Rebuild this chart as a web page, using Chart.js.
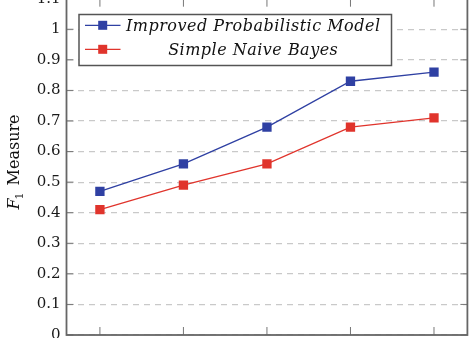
<!DOCTYPE html>
<html>
<head>
<meta charset="utf-8">
<script src="https://cdn.jsdelivr.net/npm/chart.js@4.4.0/dist/chart.umd.min.js"></script>
<style>
  body { margin: 0; background: #fff; }
  #wrap { position: relative; width: 474px; height: 338px; overflow: hidden; }
  #chart { position: absolute; left: 0; top: -30px; }
</style>
</head>
<body>
<div id="wrap"><canvas id="chart" width="474" height="380"></canvas></div>
<script>
const xValues = [1, 2, 3, 4, 5]
const improved = [0.47, 0.56, 0.68, 0.83, 0.86]
const naive = [0.41, 0.49, 0.56, 0.68, 0.71]
const seriesNames = ['Improved Probabilistic Model', 'Simple Naive Bayes']
const yTicks = [0, 0.1, 0.2, 0.3, 0.4, 0.5, 0.6, 0.7, 0.8, 0.9, 1, 1.1]

const BLUE = '#2f40a3'
const RED = '#e0342c'
const OFF = 30 // canvas is shifted up by this much
const SERIF = '"DejaVu Serif", serif'

const toPoints = arr => arr.map((v, i) => ({ x: xValues[i], y: v }))

// frame, inward ticks
const framePlugin = {
  id: 'frame',
  beforeDatasetsDraw(chart) {
    const { ctx, chartArea: { left, right, top, bottom }, scales: { x, y } } = chart
    ctx.save()
    ctx.strokeStyle = '#777'
    ctx.lineWidth = 1
    ctx.beginPath()
    yTicks.forEach(v => {
      const py = y.getPixelForValue(v)
      ctx.moveTo(left, py); ctx.lineTo(left + 7, py)
      ctx.moveTo(right - 7, py); ctx.lineTo(right, py)
    })
    xValues.forEach(v => {
      const px = x.getPixelForValue(v)
      ctx.moveTo(px, bottom); ctx.lineTo(px, bottom - 8)
      ctx.moveTo(px, top); ctx.lineTo(px, top + 8)
    })
    ctx.stroke()
    ctx.strokeStyle = '#666'
    ctx.lineWidth = 1.8
    ctx.strokeRect(left, top, right - left, bottom - top)
    ctx.restore()
  }
}

// draw text char by char with extra spacing
function spaced(ctx, text, x, y, spacing) {
  let cx = x
  for (const ch of text) {
    ctx.fillText(ch, cx, y)
    cx += ctx.measureText(ch).width + spacing
  }
}
function spacedWidth(ctx, text, spacing) {
  let w = 0
  for (const ch of text) w += ctx.measureText(ch).width + spacing
  return w - spacing
}

const legendPlugin = {
  id: 'boxLegend',
  afterDraw(chart) {
    const ctx = chart.ctx
    ctx.save()
    ctx.fillStyle = '#fff'
    ctx.fillRect(79, 14.5 + OFF, 312.5, 51)
    ctx.strokeStyle = '#555'
    ctx.lineWidth = 1.5
    ctx.strokeRect(79, 14.5 + OFF, 312.5, 51)

    ctx.font = 'italic 16px ' + SERIF
    ctx.textBaseline = 'alphabetic'
    const nat = spacedWidth(ctx, seriesNames[0], 0)
    const n = [...seriesNames[0]].length
    const sp = (254 - nat) / (n - 1)
    const colCenter = 253
    const rows = [25.3, 49.3]
    chart.data.datasets.forEach((ds, i) => {
      const ry = rows[i] + OFF
      ctx.strokeStyle = ds.borderColor
      ctx.lineWidth = 1.3
      ctx.beginPath(); ctx.moveTo(85, ry); ctx.lineTo(120.5, ry); ctx.stroke()
      ctx.fillStyle = ds.borderColor
      ctx.fillRect(102.7 - 4.5, ry - 4.5, 9, 9)
      ctx.fillStyle = '#111'
      const w = spacedWidth(ctx, seriesNames[i], sp)
      spaced(ctx, seriesNames[i], colCenter - w / 2, ry + 6, sp)
    })
    ctx.restore()
  }
}

const titlePlugin = {
  id: 'yTitle',
  afterDraw(chart) {
    const ctx = chart.ctx
    ctx.save()
    ctx.translate(19, 162 + OFF)
    ctx.rotate(-Math.PI / 2)
    ctx.fillStyle = '#111'
    ctx.textBaseline = 'alphabetic'
    const fF = 'italic 16px ' + SERIF
    const fSub = '11px ' + SERIF
    const fM = '16px ' + SERIF
    ctx.font = fF; const wF = ctx.measureText('F').width
    ctx.font = fSub; const wS = ctx.measureText('1').width
    ctx.font = fM; const wM = ctx.measureText('Measure').width
    const gap = 6
    const total = wF + wS + gap + wM
    let cx = -total / 2
    ctx.font = fF; ctx.fillText('F', cx, 0); cx += wF - 1
    ctx.font = fSub; ctx.fillText('1', cx, 4); cx += wS + gap + 1
    ctx.font = fM; ctx.fillText('Measure', cx, 0)
    ctx.restore()
  }
}

const data = {
  datasets: [
    {
      label: seriesNames[0],
      data: toPoints(improved),
      borderColor: BLUE,
      backgroundColor: BLUE,
      borderWidth: 1.3,
      pointStyle: 'rect',
      pointRadius: 6.6,
      pointBorderWidth: 0,
      pointBackgroundColor: BLUE,
      tension: 0
    },
    {
      label: seriesNames[1],
      data: toPoints(naive),
      borderColor: RED,
      backgroundColor: RED,
      borderWidth: 1.3,
      pointStyle: 'rect',
      pointRadius: 6.6,
      pointBorderWidth: 0,
      pointBackgroundColor: RED,
      tension: 0
    }
  ]
}

const config = {
  type: 'line',
  data,
  options: {
    responsive: false,
    animation: false,
    layout: { padding: { top: 28.7, right: 1.7, bottom: 13.6, left: 0 } },
    plugins: { legend: { display: false }, tooltip: { enabled: false } },
    scales: {
      x: {
        type: 'linear',
        display: false,
        min: 0.6,
        max: 5.4
      },
      y: {
        min: 0,
        max: 1.1,
        afterFit(scale) { scale.width = 66.5 },
        afterBuildTicks(scale) { scale.ticks = yTicks.map(v => ({ value: v })) },
        ticks: {
          padding: 6,
          color: '#1a1a1a',
          font: { family: SERIF, size: 15 },
          callback: v => String(Math.round(v * 10) / 10)
        },
        grid: { color: '#c9c9c9', lineWidth: 1.2, drawTicks: false },
        border: { display: false, dash: [6, 5] }
      }
    }
  },
  plugins: [framePlugin, legendPlugin, titlePlugin]
}

const myChart = new Chart(document.getElementById('chart'), config)
</script>
</body>
</html>
